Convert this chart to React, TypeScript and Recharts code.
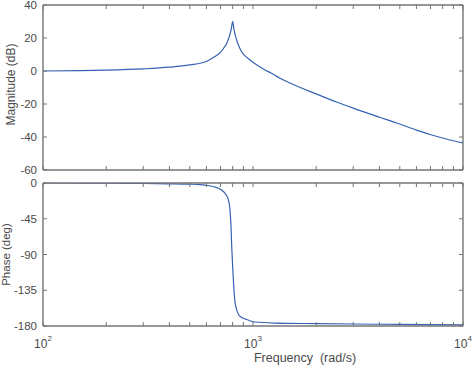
import React from 'react';
import { LineChart, Line, XAxis, YAxis } from 'recharts';

// Magnitude response (rad/s, dB)
const magFreq = [100, 150, 200, 300, 400, 500, 600, 650, 700, 722, 750, 771, 788, 800, 812, 822, 836, 860, 883, 920, 968, 1040, 1120, 1250, 1345, 1500, 1700, 2010, 2500, 3000, 4000, 4830, 6000, 6970, 8500, 10000];
const magDb = [0, 0.25, 0.55, 1.3, 2.3, 3.7, 5.8, 8.3, 11.3, 13.5, 16.8, 20.8, 25.5, 30, 25, 22, 18.8, 14.5, 11.7, 9, 6.7, 3.8, 1.2, -2, -4.4, -7.3, -10.3, -14, -18.8, -22.5, -28, -31.5, -35.8, -38.5, -41.5, -43.6];

// Phase response (rad/s, deg)
const phaseFreq = [100, 200, 300, 400, 500, 560, 620, 659, 700, 736, 763, 777, 785, 792, 800, 806, 813, 821, 835, 851, 880, 916, 1023, 1270, 2000, 3000, 5000, 10000];
const phaseDeg = [0, -0.3, -0.6, -1, -1.5, -2, -3.5, -5, -8, -13, -21, -34, -52, -80, -105, -121, -138, -150, -159, -165, -169, -171, -175, -176.3, -177, -177.5, -178, -178.5];

const majorX = [100, 1000, 10000];
const xTickValues = [100, 200, 300, 400, 500, 600, 700, 800, 900, 1000, 2000, 3000, 4000, 5000, 6000, 7000, 8000, 9000, 10000];
const xTickExponents = ['2', '3', '4'];
const magTicks = [-60, -40, -20, 0, 20, 40];
const phaseTicks = [-180, -135, -90, -45, 0];

const magData = magFreq.map((f, i) => ({ f, v: magDb[i] }));
const phaseData = phaseFreq.map((f, i) => ({ f, v: phaseDeg[i] }));

const FONT = '"Liberation Sans", Arial, sans-serif';
const AXIS = '#747474';
const TEXT = '#4a4a4a';
const LINE = '#3562b2';
const TL = 4;

const BottomTick = (withLabel: boolean) => (props: any) => {
  const { x, y, payload } = props;
  const idx = majorX.indexOf(payload.value);
  return (
    <g>
      <line x1={x} y1={y} x2={x} y2={y - TL} stroke={AXIS} strokeWidth={1} />
      {withLabel && idx >= 0 && (
        <text x={x} y={y + 22} textAnchor="middle" fontSize={12} fontFamily={FONT} fill={TEXT}>
          <tspan>10</tspan>
          <tspan dy={-7} fontSize={8}>{xTickExponents[idx]}</tspan>
        </text>
      )}
    </g>
  );
};

const TopTick = (props: any) => {
  const { x, y } = props;
  return <line x1={x} y1={y} x2={x} y2={y + TL} stroke={AXIS} strokeWidth={1} />;
};

const LeftTick = (props: any) => {
  const { x, y, payload } = props;
  return (
    <g>
      <line x1={x} y1={y} x2={x + TL} y2={y} stroke={AXIS} strokeWidth={1} />
      <text x={x - 6} y={y + 4} textAnchor="end" fontSize={11.5} fontFamily={FONT} fill={TEXT}>
        {payload.value}
      </text>
    </g>
  );
};

const RightTick = (props: any) => {
  const { x, y } = props;
  return <line x1={x} y1={y} x2={x - TL} y2={y} stroke={AXIS} strokeWidth={1} />;
};

const yTitle = (text: string, dx: number, dyc: number, fs: number) => (props: any) => {
  const vb = props.viewBox || { x: 0, y: 0, width: 0, height: 0 };
  const cx = vb.x + dx;
  const cy = vb.y + vb.height / 2 + dyc;
  return (
    <text x={cx} y={cy} transform={`rotate(-90, ${cx}, ${cy})`} textAnchor="middle" fontSize={fs} fontFamily={FONT} fill={TEXT}>
      {text}
    </text>
  );
};

const xTitle = (props: any) => {
  const vb = props.viewBox || { x: 0, y: 0, width: 0, height: 0 };
  return (
    <text x={305} y={vb.y + 36} textAnchor="middle" fontSize={12.5} fontFamily={FONT} fill={TEXT} style={{ whiteSpace: 'pre' }}>
      {'Frequency  (rad/s)'}
    </text>
  );
};

const axisLine = { stroke: AXIS, strokeWidth: 1.4 };

export default function App() {
  return (
    <div style={{ position: 'absolute', left: 0, top: 0, width: 474, height: 372, background: '#fff' }}>
      <div style={{ position: 'absolute', left: 0, top: 171 }}>
        <LineChart width={474} height={201} data={phaseData} margin={{ top: 11, right: 10, bottom: 0, left: 0 }}>
          <XAxis xAxisId="b" dataKey="f" type="number" scale="log" domain={[100, 10000]} allowDataOverflow
            ticks={xTickValues} interval={0} tickSize={0} tickMargin={0} height={46} axisLine={axisLine} tickLine={false} tick={BottomTick(true)} label={xTitle} />
          <XAxis xAxisId="t" orientation="top" dataKey="f" type="number" scale="log" domain={[100, 10000]} allowDataOverflow
            ticks={xTickValues} interval={0} tickSize={0} tickMargin={0} height={1} axisLine={axisLine} tickLine={false} tick={TopTick} />
          <YAxis yAxisId="l" type="number" domain={[-180, 0]} ticks={phaseTicks} interval={0} allowDataOverflow width={43}
            tickSize={0} tickMargin={0} axisLine={axisLine} tickLine={false} tick={LeftTick} label={yTitle('Phase (deg)', 10, 0, 11.5)} />
          <YAxis yAxisId="r" orientation="right" type="number" domain={[-180, 0]} ticks={phaseTicks} interval={0} allowDataOverflow width={1}
            tickSize={0} tickMargin={0} axisLine={axisLine} tickLine={false} tick={RightTick} />
          <Line xAxisId="b" yAxisId="l" dataKey="v" type="monotone" stroke={LINE} strokeWidth={1.2} dot={false} isAnimationActive={false} />
        </LineChart>
      </div>
      <div style={{ position: 'absolute', left: 0, top: 0 }}>
        <LineChart width={474} height={180} data={magData} margin={{ top: 4, right: 10, bottom: 9, left: 0 }}>
          <XAxis xAxisId="b" dataKey="f" type="number" scale="log" domain={[100, 10000]} allowDataOverflow
            ticks={xTickValues} interval={0} tickSize={0} tickMargin={0} height={1} axisLine={axisLine} tickLine={false} tick={BottomTick(false)} />
          <XAxis xAxisId="t" orientation="top" dataKey="f" type="number" scale="log" domain={[100, 10000]} allowDataOverflow
            ticks={xTickValues} interval={0} tickSize={0} tickMargin={0} height={1} axisLine={axisLine} tickLine={false} tick={TopTick} />
          <YAxis yAxisId="l" type="number" domain={[-60, 40]} ticks={magTicks} interval={0} allowDataOverflow width={43}
            tickSize={0} tickMargin={0} axisLine={axisLine} tickLine={false} tick={LeftTick} label={yTitle('Magnitude (dB)', 15, -3, 12)} />
          <YAxis yAxisId="r" orientation="right" type="number" domain={[-60, 40]} ticks={magTicks} interval={0} allowDataOverflow width={1}
            tickSize={0} tickMargin={0} axisLine={axisLine} tickLine={false} tick={RightTick} />
          <Line xAxisId="b" yAxisId="l" dataKey="v" type="monotone" stroke={LINE} strokeWidth={1.2} dot={false} isAnimationActive={false} />
        </LineChart>
      </div>
    </div>
  );
}
